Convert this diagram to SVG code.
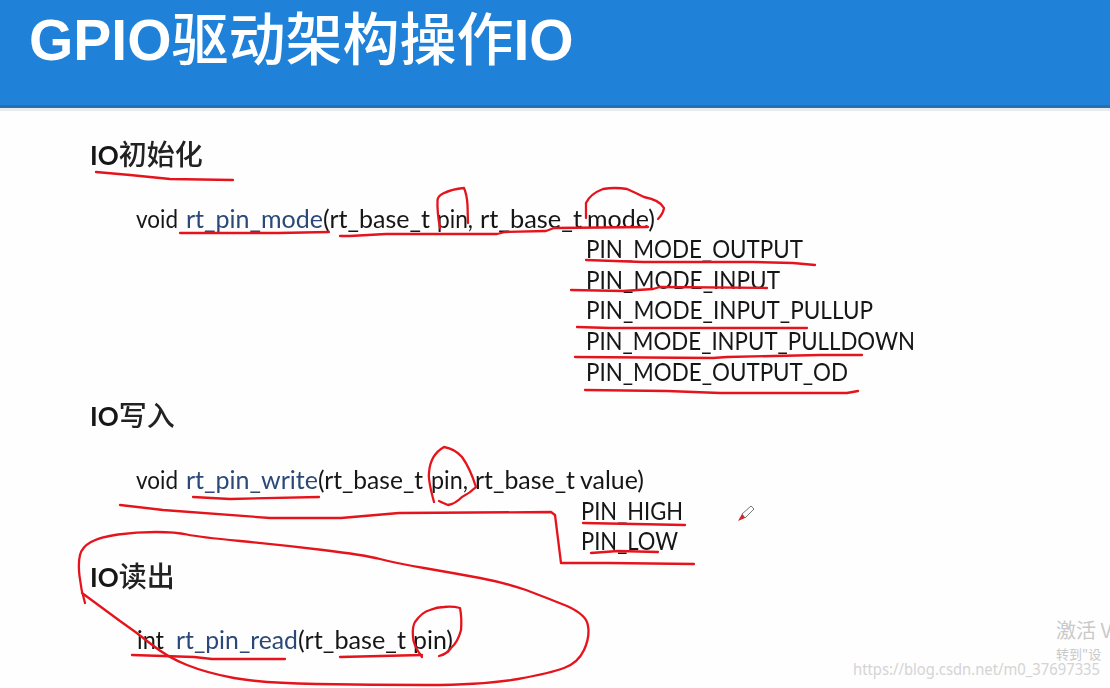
<svg xmlns="http://www.w3.org/2000/svg" width="1110" height="688" viewBox="0 0 1110 688">
<defs>
<filter id="soft" x="-5%" y="-5%" width="110%" height="110%"><feGaussianBlur stdDeviation="0.35"/></filter>
</defs>
<style>
text{font-family:"Lato","Noto Sans CJK SC",sans-serif}
.b{font-size:25px;fill:#161616}
.f{font-size:25px;fill:#2b4a78}
.h{font-size:28px;font-weight:500;fill:#222;font-family:"Noto Sans CJK SC",sans-serif}
.io{font-size:26px;font-weight:700;fill:#141414;font-family:"Lato",sans-serif}
.r{fill:none;stroke:#e5141c;stroke-width:2.3;stroke-linecap:round;stroke-linejoin:round}
.t{font-family:"Liberation Sans",sans-serif;font-size:57px;font-weight:700;fill:#fff}
.tz{font-family:"Noto Sans CJK SC",sans-serif;font-weight:500}
.w{fill:#c9c9c9;font-family:"Noto Sans CJK SC",sans-serif}
</style>
<rect width="1110" height="688" fill="#fefefe"/>
<g id="header">
<rect x="0" y="0" width="1110" height="105" fill="#1f82d8"/>
<rect x="0" y="105" width="1110" height="3" fill="#2a6fa8"/>
<rect x="0" y="108" width="1110" height="3" fill="#e6ebef"/>
<text class="t" x="29" y="60">GPIO<tspan class="tz">驱动架构操作</tspan>IO</text>
</g>
<g id="watermark">
<text class="w" x="1056" y="638" font-size="20">激活 V</text>
<text class="w" x="1056" y="659" font-size="13">转到"设</text>
<text x="853" y="675" font-size="15.5" fill="#d4d4d4" style="font-family:'Noto Sans',sans-serif" textLength="247" lengthAdjust="spacingAndGlyphs">https://blog.csdn.net/m0_37697335</text>
</g>
<g id="section-init" filter="url(#soft)">
<text class="h" x="90" y="165"><tspan class="io">IO</tspan>初始化</text>
<text class="b" x="136" y="228" textLength="42" lengthAdjust="spacingAndGlyphs">void</text>
<text class="f" x="186" y="228" textLength="137" lengthAdjust="spacingAndGlyphs">rt_pin_mode</text>
<text class="b" x="323" y="228" textLength="107" lengthAdjust="spacingAndGlyphs">(rt_base_t</text>
<text class="b" x="437" y="228" textLength="36" lengthAdjust="spacingAndGlyphs">pin,</text>
<text class="b" x="480" y="228" textLength="102" lengthAdjust="spacingAndGlyphs">rt_base_t</text>
<text class="b" x="587" y="228" textLength="68" lengthAdjust="spacingAndGlyphs">mode)</text>
<text class="b" x="586" y="258" textLength="217" lengthAdjust="spacingAndGlyphs">PIN_MODE_OUTPUT</text>
<text class="b" x="586" y="289" textLength="194" lengthAdjust="spacingAndGlyphs">PIN_MODE_INPUT</text>
<text class="b" x="586" y="319" textLength="287" lengthAdjust="spacingAndGlyphs">PIN_MODE_INPUT_PULLUP</text>
<text class="b" x="586" y="350" textLength="329" lengthAdjust="spacingAndGlyphs">PIN_MODE_INPUT_PULLDOWN</text>
<text class="b" x="586" y="381" textLength="262" lengthAdjust="spacingAndGlyphs">PIN_MODE_OUTPUT_OD</text>
</g>
<g id="section-write" filter="url(#soft)">
<text class="h" x="90" y="426"><tspan class="io">IO</tspan>写入</text>
<text class="b" x="136" y="489" textLength="42" lengthAdjust="spacingAndGlyphs">void</text>
<text class="f" x="186" y="489" textLength="132" lengthAdjust="spacingAndGlyphs">rt_pin_write</text>
<text class="b" x="318" y="489" textLength="105" lengthAdjust="spacingAndGlyphs">(rt_base_t</text>
<text class="b" x="431" y="489" textLength="37" lengthAdjust="spacingAndGlyphs">pin,</text>
<text class="b" x="475" y="489" textLength="100" lengthAdjust="spacingAndGlyphs">rt_base_t</text>
<text class="b" x="580" y="489" textLength="64" lengthAdjust="spacingAndGlyphs">value)</text>
<text class="b" x="581" y="520" textLength="102" lengthAdjust="spacingAndGlyphs">PIN_HIGH</text>
<text class="b" x="581" y="550" textLength="97" lengthAdjust="spacingAndGlyphs">PIN_LOW</text>
</g>
<g id="section-read" filter="url(#soft)">
<text class="h" x="90" y="587"><tspan class="io">IO</tspan>读出</text>
<text class="b" x="137" y="649" textLength="27" lengthAdjust="spacingAndGlyphs">int</text>
<text class="f" x="176" y="649" textLength="122" lengthAdjust="spacingAndGlyphs">rt_pin_read</text>
<text class="b" x="298" y="649" textLength="108" lengthAdjust="spacingAndGlyphs">(rt_base_t</text>
<text class="b" x="413" y="649" textLength="40" lengthAdjust="spacingAndGlyphs">pin)</text>
</g>
<g id="annotations">
<polyline class="r" points="96,172 130,175 170,179 233,180"/>
<polyline class="r" points="180,233 278,233 329,232"/>
<polyline class="r" points="340,236 350,236 386,234 497,234 505,232 546,231 554,228 648,227"/>
<path class="r" d="M440,228 Q437,212 437.5,200 Q438,196 443,193.5 Q452,189 464,188 Q467,195 467.5,205 L468,223"/>
<path class="r" d="M586,218 L586,203 Q590,194 603,189 Q615,187 627,189 Q636,193 644,197 Q660,200 664,208 Q663,214 658,219"/>
<polyline class="r" points="586,260 643,262 753,262 793,263 815,265"/>
<polyline class="r" points="571,290 623,291 653,289 660,287 767,288"/>
<polyline class="r" points="577,327 610,328 750,328 807,328"/>
<polyline class="r" points="575,357 713,358 727,357 820,355 862,355"/>
<polyline class="r" points="585,390 667,391 720,393 847,393 858,391"/>
<polyline class="r" points="193,497 230,499 319,497"/>
<path class="r" d="M434,502 Q428,480 429,473 Q430,455 444,447 Q455,449 462,457 Q470,468 476,487 Q470,493 462,497 Q455,504 448,505 Q443,503 439,501"/>
<polyline class="r" points="120,505 163,510 270,518 341,518 399,513 551,512 555,515 561,563 609,563 694,564"/>
<polyline class="r" points="583,523 685,525"/>
<polyline class="r" points="591,553 618,551 658,552"/>
<path class="r" d="M85,603 Q81,590 79.5,576 Q78,563 80,555 Q82,547 91,542 Q100,537 118,534.5 Q136,532 156,532 Q176,532 187,534.5 Q198,537 240,541 Q283,545 323,550 Q364,555 380,559 Q395,563 424,568 Q453,573 480,578 Q506,583 526,590 Q547,598 567,606 Q587,615 588,626 Q590,637 584,650 Q578,663 564,668 Q551,673 518,679 Q484,685 428,685 Q372,685 316,684 Q261,683 234,678 Q207,673 187,665 Q167,657 151,644 Q136,632 120,621 Q105,610 82,593"/>
<polyline class="r" points="132,655 194,657 212,659 285,659"/>
<polyline class="r" points="340,657 422,655"/>
<path class="r" d="M422,657 Q413,645 413,637 Q412,627 415,622 Q422,612 430,610 Q437,607 444,607 Q452,606 460,608 Q462,618 461,630 Q458,642 451,648 Q447,654 439,656"/>
</g>
<g id="pen-cursor">
<path d="M742,514 L751,506 L754,509 L745,518 Z" fill="#fff" stroke="#777" stroke-width="1"/>
<path d="M738,521 L742,514 L745,518 Z" fill="#d8202a"/>
</g>
</svg>
